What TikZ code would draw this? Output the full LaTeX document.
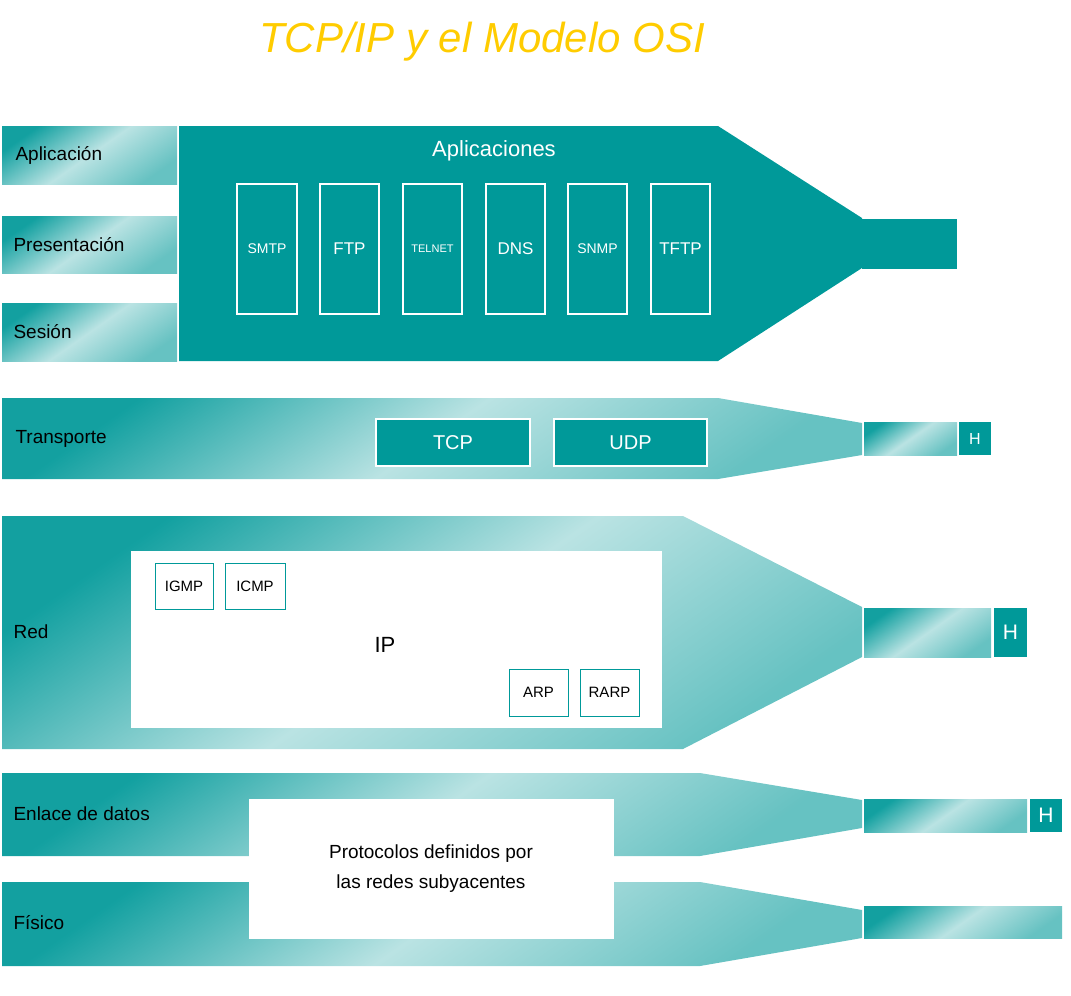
\documentclass[tikz,border=0pt]{standalone}
\usepackage{fontspec}
\setmainfont{Liberation Sans}
\definecolor{tl}{RGB}{0,153,153}
\definecolor{lt}{RGB}{186,227,227}
\definecolor{gold}{RGB}{255,204,0}
\begin{document}
\begin{tikzpicture}[x=1pt,y=-1pt,
 grad/.style={top color=tl!90!lt,bottom color=tl!45!lt,middle color=lt,shading angle=35},
 proto/.style={draw=white,line width=1.2pt,fill=tl,text=white,inner sep=0pt},
 wbox/.style={draw=tl,line width=1pt,fill=white,inner sep=0pt,font=\fontsize{15}{17}\selectfont},
 lbl/.style={anchor=west,font=\fontsize{19}{21}\selectfont},
 hbox/.style={fill=tl,text=white,inner sep=0pt,font=\fontsize{16}{18}\selectfont}]
\useasboundingbox (0,0) rectangle (1071,996);
\node[font=\itshape\fontsize{42}{48}\selectfont,text=gold] (title) at (482,42) {TCP/IP y el Modelo OSI};
% upper layers
\shade[grad] (2,126) rectangle (177,184);
\shade[grad] (2,216) rectangle (177,273);
\shade[grad] (2,303) rectangle (177,361);
\node[lbl] (apl) at (12,155) {Aplicación};
\node[lbl] (pre) at (10,245) {Presentación};
\node[lbl] (ses) at (10,332) {Sesión};
\fill[tl] (179,126)--(718,126)--(862,218)--(862,268)--(718,361)--(179,361)--cycle;
\fill[tl] (862,219) rectangle (957,269);
\node[text=white,font=\fontsize{22}{24}\selectfont] (apps) at (494,151) {Aplicaciones};
\foreach \a/\b/\t/\s in {237/297/SMTP/14,320/379/FTP/17,403/462/TELNET/11,486/545/DNS/17,568/627/SNMP/14,651/710/TFTP/17}{
 \node[proto,minimum width=\b pt-\a pt,minimum height=130pt,font=\fontsize{\s}{\s}\selectfont] (p\t) at ({(\a+\b)/2},249) {\t};}
% transport
\shade[grad] (2,398)--(718,398)--(862,423)--(862,455)--(718,479)--(2,479)--cycle;
\shade[grad] (864,422) rectangle (957,455);
\node[hbox,minimum width=32pt,minimum height=33pt] (h1) at (975,438.5) {H};
\node[lbl] (tra) at (12,439) {Transporte};
\node[proto,minimum width=154pt,minimum height=47pt,font=\fontsize{20}{22}\selectfont] (tcp) at (453,442.5) {TCP};
\node[proto,minimum width=153pt,minimum height=47pt,font=\fontsize{20}{22}\selectfont] (udp) at (630.5,442.5) {UDP};
% network
\shade[grad] (2,516)--(683,516)--(862,607)--(862,657)--(683,749)--(2,749)--cycle;
\fill[white] (131,551) rectangle (662,728);
\node[wbox,minimum width=58pt,minimum height=46pt] (igmp) at (184,586) {IGMP};
\node[wbox,minimum width=60pt,minimum height=46pt] (icmp) at (255,586) {ICMP};
\node[wbox,minimum width=59pt,minimum height=47pt] (arp) at (538.5,692.5) {ARP};
\node[wbox,minimum width=59pt,minimum height=47pt] (rarp) at (609.5,692.5) {RARP};
\node[font=\fontsize{22}{24}\selectfont] (ip) at (385,645) {IP};
\node[lbl] (red) at (10,632) {Red};
\shade[grad] (864,608) rectangle (991,657);
\node[hbox,minimum width=33pt,minimum height=49pt,font=\fontsize{21}{23}\selectfont] (h2) at (1010.5,632.5) {H};
% data link
\shade[grad] (2,773)--(700,773)--(862,800)--(862,828)--(700,856)--(2,856)--cycle;
\shade[grad] (864,799) rectangle (1027,832);
\node[hbox,minimum width=32pt,minimum height=33pt,font=\fontsize{21}{23}\selectfont] (h3) at (1046,815.5) {H};
\node[lbl] (enl) at (10,814) {Enlace de datos};
% physical
\shade[grad] (2,882)--(700,882)--(862,910)--(862,938)--(700,966)--(2,966)--cycle;
\shade[grad] (864,906) rectangle (1062,938);
\node[lbl] (fis) at (10,923) {Físico};
\fill[white] (249,799) rectangle (614,939);
\node[align=center,font=\fontsize{19}{30}\selectfont] (sub) at (431,869) {Protocolos definidos por\\las redes subyacentes};
\end{tikzpicture}
\end{document}
